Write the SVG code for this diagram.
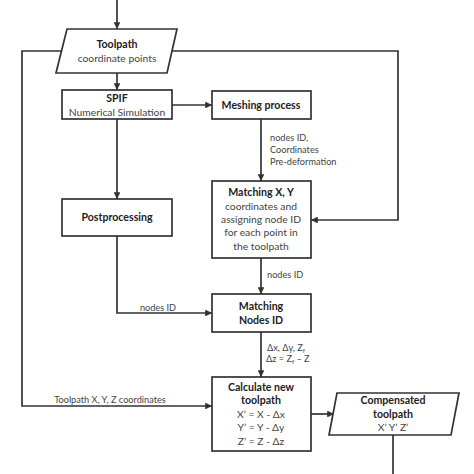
<svg xmlns="http://www.w3.org/2000/svg" width="474" height="474" viewBox="0 0 474 474">
<style>
.box{fill:#fff;stroke:#333;stroke-width:1.7}
.c{fill:none;stroke:#333;stroke-width:1.7}
text{font-family:Lato,"Liberation Sans",sans-serif;font-size:10.3px;fill:#444;text-anchor:middle}
.b{font-weight:bold;fill:#222;font-size:10.6px}
.l{font-size:9.2px;text-anchor:start}
</style>
<defs>
<marker id="ah" viewBox="0 0 10 10" refX="10" refY="5" markerWidth="4.5" markerHeight="4" orient="auto" markerUnits="strokeWidth">
<path d="M0,0 L10,5 L0,10 z" fill="#333"/>
</marker>
</defs>
<rect width="474" height="474" fill="#fff"/>
<g id="connectors">
<path class="c" d="M117,0 V29" marker-end="url(#ah)"/>
<path class="c" d="M117,73 V90" marker-end="url(#ah)"/>
<path class="c" d="M172,105 H212" marker-end="url(#ah)"/>
<path class="c" d="M117,119 V199" marker-end="url(#ah)"/>
<path class="c" d="M261,119 V181" marker-end="url(#ah)"/>
<path class="c" d="M172,51 H398 V220 H311" marker-end="url(#ah)"/>
<path class="c" d="M261,258 V294" marker-end="url(#ah)"/>
<path class="c" d="M117,236 V313 H212" marker-end="url(#ah)"/>
<path class="c" d="M261,332 V377" marker-end="url(#ah)"/>
<path class="c" d="M61,51 H22 V406 H212" marker-end="url(#ah)"/>
<path class="c" d="M311,414 H334" marker-end="url(#ah)"/>
<path class="c" d="M393,435 V474"/>
<text class="l" x="270" y="141">nodes ID,</text>
<text class="l" x="270" y="153">Coordinates</text>
<text class="l" x="270" y="165">Pre-deformation</text>
<text class="l" x="267" y="278">nodes ID</text>
<text x="158" y="311" style="font-size:9.2px">nodes ID</text>
<text x="110" y="403" style="font-size:9.2px">Toolpath X, Y, Z coordinates</text>
<text class="l" x="267" y="351">Δx, Δy, Z<tspan style="font-size:6px" dy="2">f</tspan></text>
<text class="l" x="266" y="362">Δz = Z<tspan style="font-size:6px" dy="2">f</tspan><tspan dy="-2"> – Z</tspan></text>
</g>
<g id="toolpath">
<polygon class="box" points="67,29 177,29 167,73 56,73"/>
<text class="b" x="117" y="48">Toolpath</text>
<text x="117" y="62">coordinate points</text>
</g>
<g id="spif">
<rect class="box" x="62" y="90" width="110" height="29"/>
<text class="b" x="117" y="102">SPIF</text>
<text x="117" y="116">Numerical Simulation</text>
</g>
<g id="meshing">
<rect class="box" x="212" y="91" width="99" height="28"/>
<text class="b" x="261" y="109">Meshing process</text>
</g>
<g id="postprocessing">
<rect class="box" x="62" y="199" width="110" height="37"/>
<text class="b" x="117" y="221">Postprocessing</text>
</g>
<g id="matching-xy">
<rect class="box" x="212" y="181" width="99" height="77"/>
<text class="b" x="261" y="196">Matching X, Y</text>
<text x="261" y="210">coordinates and</text>
<text x="261" y="223">assigning node ID</text>
<text x="261" y="236">for each point in</text>
<text x="261" y="250">the toolpath</text>
</g>
<g id="matching-nodes">
<rect class="box" x="212" y="294" width="99" height="38"/>
<text class="b" x="261" y="310">Matching</text>
<text class="b" x="261" y="324">Nodes ID</text>
</g>
<g id="calculate">
<rect class="box" x="212" y="377" width="99" height="74"/>
<text class="b" x="261" y="391">Calculate new</text>
<text class="b" x="261" y="404">toolpath</text>
<text x="261" y="418">X’ = X - Δx</text>
<text x="261" y="431">Y’ = Y - Δy</text>
<text x="261" y="445">Z’ = Z - Δz</text>
</g>
<g id="compensated">
<polygon class="box" points="337,393 459,393 451,435 329,435"/>
<text class="b" x="393" y="404">Compensated</text>
<text class="b" x="393" y="418">toolpath</text>
<text x="393" y="431">X’ Y’ Z’</text>
</g>
</svg>
